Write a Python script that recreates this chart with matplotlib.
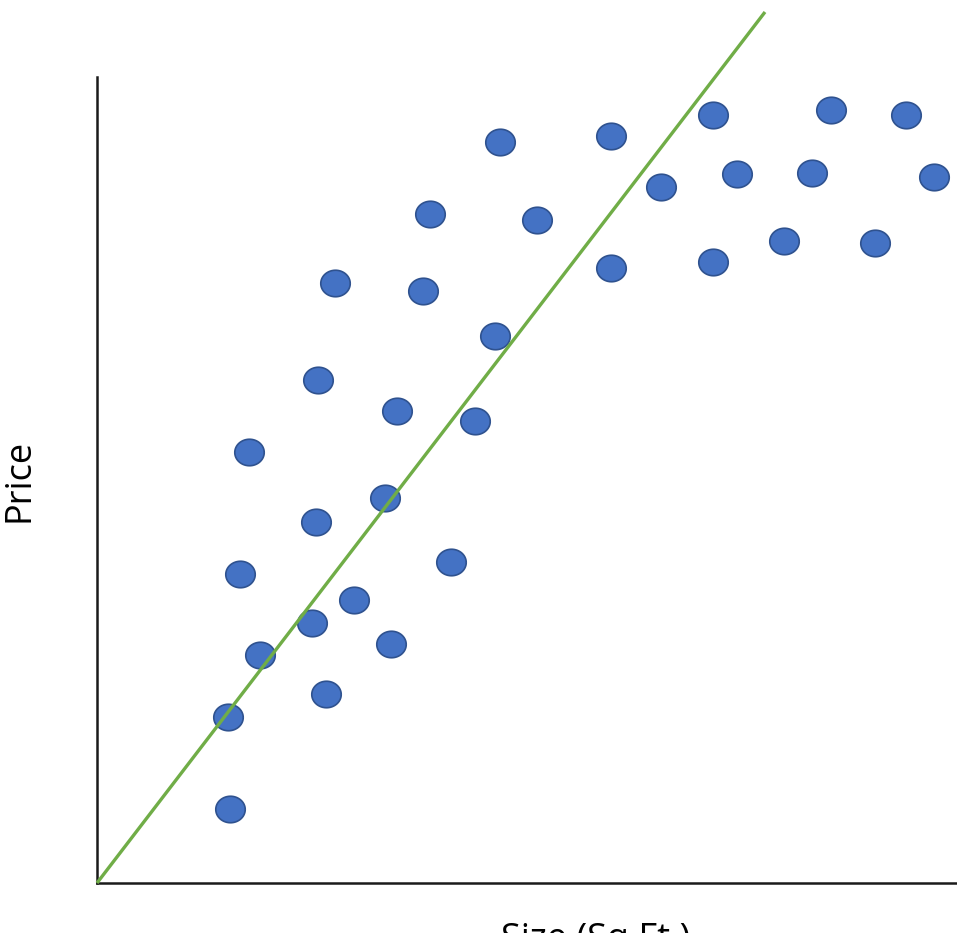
import numpy as np
import matplotlib
matplotlib.use("Agg")
import matplotlib.pyplot as plt

# point data (size vs price, arbitrary units)
size_x = [133, 131, 163, 229, 215, 257, 294, 143, 219, 288, 354,
          152, 221, 300, 378, 238, 326, 398, 333, 440, 403, 514,
          514, 564, 616, 616, 640, 687, 715, 734, 778, 809, 837]
price_y = [74, 166, 228, 189, 260, 283, 239, 309, 361, 385, 321,
           431, 503, 472, 462, 600, 592, 547, 669, 663, 741, 747,
           615, 696, 768, 621, 709, 642, 710, 773, 640, 768, 706]

# fitted straight line
trend_x = [0, 668]
trend_y = [0, 871]

plt.rcParams['font.family'] = ['Open Sans', 'DejaVu Sans']

fig = plt.figure(figsize=(9.57, 9.33), dpi=100)
ax = fig.add_axes([97/957, 50/933, 860/957, 883/933])

# slightly flattened circle marker
t = np.linspace(0, 2*np.pi, 60)
ellipse = np.column_stack([np.cos(t), 0.9*np.sin(t)])

ax.scatter(size_x, price_y, marker=ellipse, s=450, color='#4472C4',
           edgecolors='#2F528F', linewidths=1.2, zorder=2, clip_on=False)
ax.plot(trend_x, trend_y, color='#70AD47', linewidth=2.4, zorder=3,
        clip_on=False, solid_capstyle='butt')

ax.set_xlim(0, 860)
ax.set_ylim(0, 883)
for side in ['top', 'right']:
    ax.spines[side].set_visible(False)
ax.spines['left'].set_bounds(0, 806)
for side in ['left', 'bottom']:
    ax.spines[side].set_linewidth(1.8)
    ax.spines[side].set_color('#1a1a1a')
ax.set_xticks([])
ax.set_yticks([])

fig.text(20/957, 1 - 480/933, 'Price', rotation=90, fontsize=26,
         ha='center', va='center')
fig.text(596/957, 1 - 922/933, 'Size (Sq.Ft.)', fontsize=26,
         ha='center', va='top')

plt.savefig('out.png', dpi=100)
